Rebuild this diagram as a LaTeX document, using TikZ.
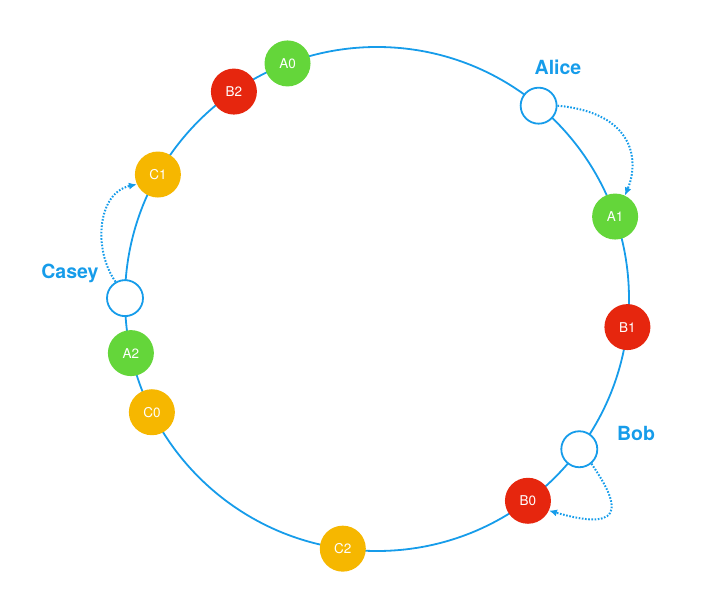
\documentclass[tikz,border=0pt]{standalone}
\usepackage{fontspec}
\setmainfont{TeX Gyre Heros}
\usetikzlibrary{arrows.meta}
\definecolor{ringblue}{HTML}{169CEA}
\definecolor{vgreen}{HTML}{64D63A}
\definecolor{vred}{HTML}{E6260E}
\definecolor{vyellow}{HTML}{F6B700}
\begin{document}
\begin{tikzpicture}[x=1pt,y=1pt]
        \tikzstyle{vnode}=[circle,minimum size=46pt,inner sep=0pt,text=white,font=\fontsize{13.5}{14}\selectfont]
        \tikzstyle{peer}=[circle,minimum size=36pt,inner sep=0pt,draw=ringblue,line width=1.8pt,fill=white]
        \tikzstyle{tag}=[text=ringblue,font=\fontsize{19.5}{20}\selectfont\bfseries]
        \tikzstyle{hop}=[ringblue,line width=2pt,dash pattern=on 1.6pt off 1.6pt,-{Latex[length=8pt,width=7pt]}]
        \useasboundingbox (-377,-298) rectangle (351,299);
        \draw[ringblue,line width=1.8pt] (0,0) circle (252);
        \node[vnode,fill=vgreen] (a0) at (110.8:252) {A0};
        \node[vnode,fill=vred] (b2) at (124.6:252) {B2};
        \node[vnode,fill=vyellow] (c1) at (150.4:252) {C1};
        \node[peer] (casey) at (179.8:252) {};
        \node[vnode,fill=vgreen] (a2) at (192.4:252) {A2};
        \node[vnode,fill=vyellow] (c0) at (206.7:252) {C0};
        \node[vnode,fill=vyellow] (c2) at (262.2:252) {C2};
        \node[vnode,fill=vred] (b0) at (306.8:252) {B0};
        \node[peer] (bob) at (323.4:252) {};
        \node[vnode,fill=vred] (b1) at (353.6:252) {B1};
        \node[vnode,fill=vgreen] (a1) at (19.1:252) {A1};
        \node[peer] (alice) at (50.1:252) {};
        \node[tag] (alicename) at (181,232) {Alice};
        \node[tag] (bobname) at (259,-134) {Bob};
        \node[tag] (caseyname) at (-307,26) {Casey};
        \draw[hop] (alice.east) .. controls (259,186) and (262,137) .. (a1.65);
        \draw[hop] (bob.-50) .. controls (238,-199) and (256,-236) .. (b0.-25);
        \draw[hop] (casey.120) .. controls (-284,49) and (-280,106) .. (c1.-155);
\end{tikzpicture}
\end{document}
